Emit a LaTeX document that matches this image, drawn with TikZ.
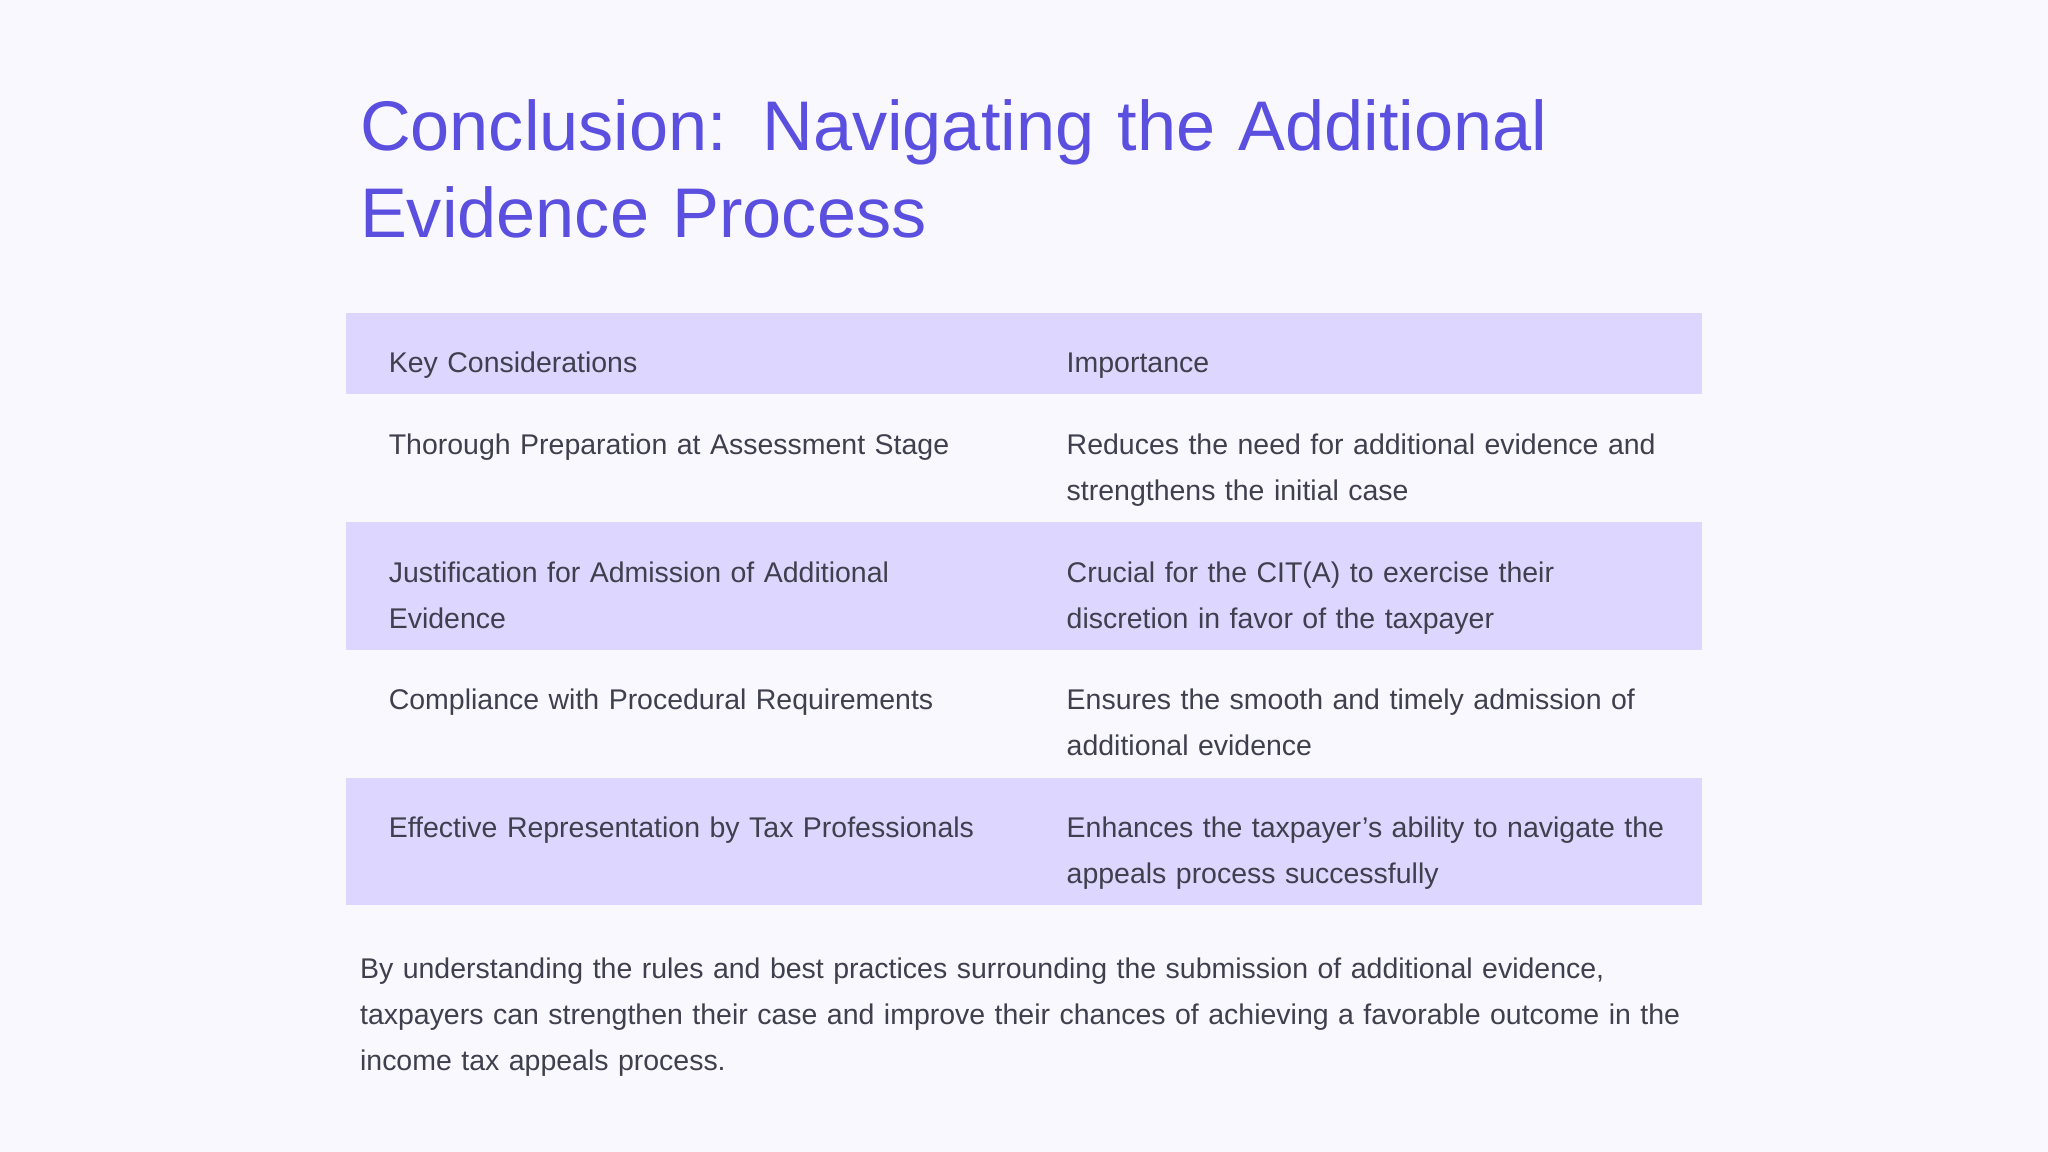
\documentclass[tikz,border=0pt]{standalone}
\usepackage{fontspec}
\setmainfont{Liberation Sans}
\definecolor{pagebg}{HTML}{F9F8FE}
\definecolor{rowfill}{HTML}{DDD6FE}
\definecolor{titlecol}{HTML}{5B4FE0}
\definecolor{bodytext}{HTML}{3F3F4E}
\tikzset{
  celltext/.style={anchor=base west, inner sep=0pt, text=bodytext, align=left,
    text width=4.9cm, font=\fontsize{6.2}{10}\selectfont},
  rowband/.style={fill=rowfill, draw=none}
}
\begin{document}
\begin{tikzpicture}[x=0.01cm, y=-0.01cm]
  \fill[pagebg] (0,0) rectangle (1568,882);
  % title
  \node[anchor=base west, inner sep=0pt, text=titlecol, align=left, text width=12cm,
    font=\fontsize{15.3}{19}\selectfont] (title) at (275,115)
    {Conclusion: Navigating the Additional\\Evidence Process};
  % table bands
  \fill[rowband] (265,240) rectangle (1303,302);
  \fill[rowband] (265,400) rectangle (1303,498);
  \fill[rowband] (265,596) rectangle (1303,693);
  % header
  \node[celltext] (h1) at (297,285) {Key Considerations};
  \node[celltext] (h2) at (816,285) {Importance};
  % rows
  \node[celltext] (r1a) at (297,348) {Thorough Preparation at Assessment Stage};
  \node[celltext] (r1b) at (816,348) {Reduces the need for additional evidence and\\strengthens the initial case};
  \node[celltext] (r2a) at (297,446) {Justification for Admission of Additional\\Evidence};
  \node[celltext] (r2b) at (816,446) {Crucial for the CIT(A) to exercise their\\discretion in favor of the taxpayer};
  \node[celltext] (r3a) at (297,543) {Compliance with Procedural Requirements};
  \node[celltext] (r3b) at (816,543) {Ensures the smooth and timely admission of\\additional evidence};
  \node[celltext] (r4a) at (297,641) {Effective Representation by Tax Professionals};
  \node[celltext] (r4b) at (816,641) {Enhances the taxpayer's ability to navigate the\\appeals process successfully};
  % closing paragraph
  \node[celltext, text width=11cm] (para) at (275,749) {By understanding the rules and best practices surrounding the submission of additional evidence,\\taxpayers can strengthen their case and improve their chances of achieving a favorable outcome in the\\income tax appeals process.};
\end{tikzpicture}
\end{document}
